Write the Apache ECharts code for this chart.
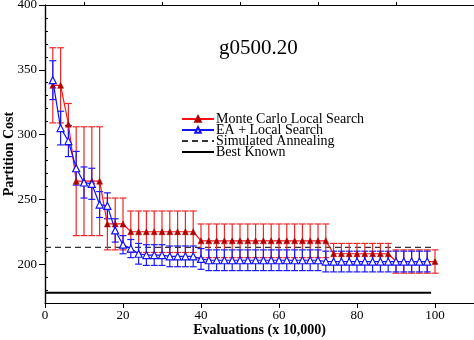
<!DOCTYPE html>
<html>
<head>
<meta charset="utf-8">
<script src="https://cdn.jsdelivr.net/npm/echarts@6/dist/echarts.min.js"></script>
<style>html,body{margin:0;padding:0;background:#fff}#c{width:474px;height:340px}</style>
</head>
<body>
<div id="c"></div>
<script>
const titleText = 'g0500.20';
const xLabel = 'Evaluations (x 10,000)';
const yLabel = 'Partition Cost';
const seriesNames = ['Monte Carlo Local Search', 'EA + Local Search', 'Simulated Annealing', 'Best Known'];

const mcX = [2,4,6,8,10,12,14,16,18,20,22,24,26,28,30,32,34,36,38,40,42,44,46,48,50,52,54,56,58,60,62,64,66,68,70,72,74,76,78,80,82,84,86,88,90,92,94,96,98,100];
const mcMean = [338,338,308,264,264,264,264,231,231,231,225,225,225,225,225,225,225,225,225,218,218,218,218,218,218,218,218,218,218,218,218,218,218,218,218,218,208,208,208,208,208,208,208,208,202,202,202,202,202,202];
const mcErr  = [29,29,16,42,42,42,42,20,20,20,16,16,16,16,16,16,16,16,16,13,13,13,13,13,13,13,13,13,13,13,13,13,13,13,13,13,8,8,8,8,8,8,8,8,9,9,9,9,9,9];

const eaX = [2,4,6,8,10,12,14,16,18,20,22,24,26,28,30,32,34,36,38,40,42,44,46,48,50,52,54,56,58,60,62,64,66,68,70,72,74,76,78,80,82,84,86,88,90,92,94,96,98];
const eaMean = [342,305,295,274,263,262,246,245,226,215,212,208,207,207,207,206,206,206,206,204,203,203,203,203,203,203,203,203,203,203,203,203,203,203,203,202,202,202,202,202,202,202,202,202,202,202,202,202,202];
const eaErr  = [15,13,12,13,12,12,10,10,9,7,7,8,8,8,8,8,8,8,8,8,8,8,8,8,8,8,8,8,8,8,8,8,8,8,8,8,8,8,8,8,8,8,8,8,8,8,8,8,8];

const saX = [0, 99];
const saY = [213, 213];
const bestX = [0, 99];
const bestY = [178, 178];

const xTicks = [0,20,40,60,80,100];
const xMinor = [10,30,50,70,90,110];
const yTicks = [200,250,300,350,400];
const yMinor = [180,190,210,220,230,240,260,270,280,290,310,320,330,340,360,370,380,390];

const pairs = (xs, ys) => xs.map((x, i) => [x, ys[i]]);
const errData = (xs, m, e) => xs.map((x, i) => [x, m[i] - e[i], m[i] + e[i]]);

function errRender(color) {
  return function (params, api) {
    const x = api.value(0);
    const lo = api.coord([x, api.value(1)]);
    const hi = api.coord([x, api.value(2)]);
    const w = 3.5;
    const st = { stroke: color, lineWidth: 1.2 };
    return {
      type: 'group',
      children: [
        { type: 'line', shape: { x1: lo[0], y1: lo[1], x2: hi[0], y2: hi[1] }, style: st },
        { type: 'line', shape: { x1: lo[0] - w, y1: lo[1], x2: lo[0] + w, y2: lo[1] }, style: st },
        { type: 'line', shape: { x1: hi[0] - w, y1: hi[1], x2: hi[0] + w, y2: hi[1] }, style: st }
      ]
    };
  };
}

const font = '"Liberation Serif", "DejaVu Serif", serif';

const baseX = {
  type: 'value', min: 0, max: 110, gridIndex: 0,
  axisLine: { show: true, lineStyle: { color: '#000', width: 1.2 } },
  splitLine: { show: false }
};
const baseY = {
  type: 'value', min: 170, max: 400, gridIndex: 0,
  axisLine: { show: true, lineStyle: { color: '#000', width: 1.2 } },
  splitLine: { show: false }
};

const option = {
  backgroundColor: '#fff',
  animation: false,
  textStyle: { fontFamily: font },
  title: {
    text: titleText, left: 214, top: 33,
    textStyle: { fontFamily: font, fontSize: 21, fontWeight: 'normal', color: '#000' }
  },
  legend: {
    left: 176, top: 107, orient: 'vertical', itemGap: -3,
    itemWidth: 32, itemHeight: 7,
    data: [
      { name: seriesNames[0] },
      { name: seriesNames[1] },
      { name: seriesNames[2], itemStyle: { opacity: 0 } },
      { name: seriesNames[3], itemStyle: { opacity: 0 } }
    ],
    textStyle: { fontFamily: font, fontSize: 14, color: '#000', padding: [0, 0, 0, -3] }
  },
  grid: { left: 45, right: 0, top: 5, bottom: 37, outerBoundsMode: 'none', containLabel: false },
  xAxis: [
    Object.assign({}, baseX, {
      name: xLabel, nameLocation: 'middle', nameGap: 20, nameMoveOverlap: false,
      nameTextStyle: { fontFamily: font, fontSize: 14, fontWeight: 'bold', color: '#000' },
      axisTick: { show: true, length: 5, customValues: xTicks, lineStyle: { color: '#000' } },
      axisLabel: { customValues: xTicks, fontFamily: font, fontSize: 13, color: '#000', margin: 6 }
    }),
    Object.assign({}, baseX, {
      axisTick: { show: true, length: 3, customValues: xMinor, lineStyle: { color: '#000' } },
      axisLabel: { show: false }
    })
  ],
  yAxis: [
    Object.assign({}, baseY, {
      name: yLabel, nameLocation: 'middle', nameGap: 29, nameMoveOverlap: false,
      nameTextStyle: { fontFamily: font, fontSize: 14, fontWeight: 'bold', color: '#000' },
      axisTick: { show: true, length: 6, customValues: yTicks, lineStyle: { color: '#000' } },
      axisLabel: { customValues: yTicks, fontFamily: font, fontSize: 13, color: '#000', margin: 8 }
    }),
    Object.assign({}, baseY, {
      axisTick: { show: true, length: 3, customValues: yMinor, lineStyle: { color: '#000' } },
      axisLabel: { show: false }
    })
  ],
  series: [
    {
      name: seriesNames[3], type: 'line', data: pairs(bestX, bestY), symbol: 'none',
      lineStyle: { color: '#000', width: 2 }, itemStyle: { color: '#000' }, z: 1
    },
    {
      name: seriesNames[2], type: 'line', data: pairs(saX, saY), symbol: 'none',
      lineStyle: { color: '#333', width: 1.2, type: [6, 4] }, itemStyle: { color: '#333' }, z: 1
    },
    {
      type: 'custom', data: errData(mcX, mcMean, mcErr), renderItem: errRender('#f02828'),
      encode: { x: 0, y: [1, 2] }, z: 2, silent: true
    },
    {
      type: 'custom', data: errData(eaX, eaMean, eaErr), renderItem: errRender('#1a1aff'),
      encode: { x: 0, y: [1, 2] }, z: 3, silent: true
    },
    {
      name: seriesNames[0], type: 'line', data: pairs(mcX, mcMean),
      symbol: 'triangle', symbolSize: 6,
      lineStyle: { color: '#ff1010', width: 1.2 },
      itemStyle: { color: '#b00000', borderColor: '#b00000', borderWidth: 0.5 }, z: 4
    },
    {
      name: seriesNames[1], type: 'line', data: pairs(eaX, eaMean),
      symbol: 'triangle', symbolSize: 7,
      lineStyle: { color: '#1010ff', width: 1.2 },
      itemStyle: { color: '#fff', borderColor: '#1010ff', borderWidth: 1.2 }, z: 5
    }
  ]
};

const chart = echarts.init(document.getElementById('c'), null, { renderer: 'canvas' });
chart.setOption(option);
</script>
</body>
</html>
